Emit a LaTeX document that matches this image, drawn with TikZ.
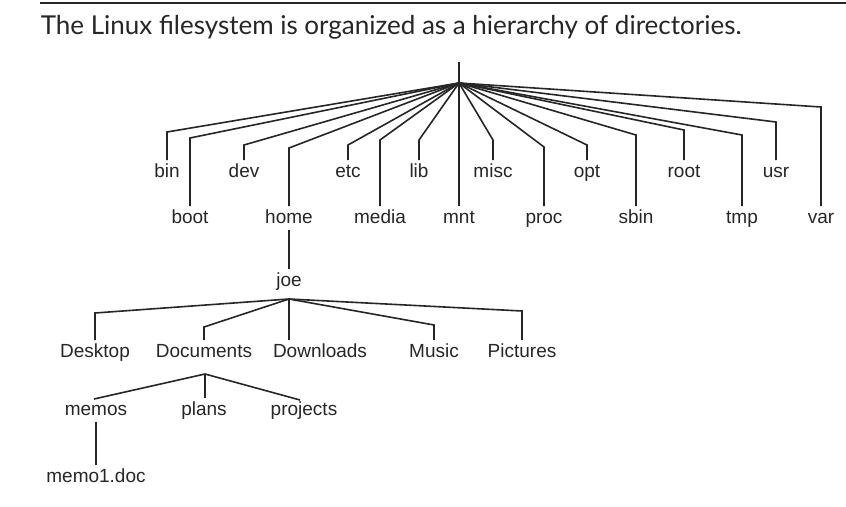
\documentclass[tikz,border=0pt]{standalone}
\usepackage{fontspec}
\setmainfont{Liberation Sans}
\newfontfamily\titlefont{Lato}
\begin{document}
\begin{tikzpicture}[x=1pt,y=-1pt,line width=1.6pt,color={black!85},
    dir/.style={font=\fontsize{19}{20}\selectfont,inner sep=2pt,text height=14pt,text depth=4pt}]
      \useasboundingbox (0,0) rectangle (846,506);
      \draw[line width=2pt] (40,3) -- (846,3);
      \node[anchor=west,font=\titlefont\fontsize{26}{28}\selectfont,inner sep=0pt] (title) at (40,27)
        {The Linux filesystem is organized as a hierarchy of directories.};
      \draw[dir]
        (167,172) node (bin){bin}
        (190,218) node (boot){boot}
        (244,172) node (dev){dev}
        (289,218) node (home){home}
        (348,172) node (etc){etc}
        (380,218) node (media){media}
        (419,172) node (lib){lib}
        (459,218) node (mnt){mnt}
        (493,172) node (misc){misc}
        (544,218) node (proc){proc}
        (587,172) node (opt){opt}
        (636,218) node (sbin){sbin}
        (684,172) node (root){root}
        (742,218) node (tmp){tmp}
        (776,172) node (usr){usr}
        (821,218) node (var){var}
        (289,281) node (joe){joe}
        (95,352) node (desktop){Desktop}
        (204,352) node (documents){Documents}
        (320,352) node (downloads){Downloads}
        (434,352) node (music){Music}
        (522,352) node (pictures){Pictures}
        (96,410) node (memos){memos}
        (204,410) node (plans){plans}
        (304,410) node (projects){projects}
        (96,477) node (memo){memo1.doc};
      \coordinate (top) at (459,62);
      \coordinate (hub) at (459,83);
      \coordinate (joehub) at (289,299);
      \coordinate (dochub) at (205,374);
      \coordinate (memosend) at (94,399);
      \coordinate (plansend) at (205,398);
      \coordinate (projectsend) at (300,400);
      \begin{scope}[line join=miter]
        \draw (top) -- (hub) -- (mnt.north);
        \draw (hub) -- (bin.north |- 0,132) -- (bin.north);
        \draw (hub) -- (boot.north |- 0,138) -- (boot.north);
        \draw (hub) -- (dev.north |- 0,145) -- (dev.north);
        \draw (hub) -- (home.north |- 0,148) -- (home.north);
        \draw (hub) -- (etc.north |- 0,145) -- (etc.north);
        \draw (hub) -- (media.north |- 0,140) -- (media.north);
        \draw (hub) -- (lib.north |- 0,140) -- (lib.north);
        \draw (hub) -- (misc.north |- 0,140) -- (misc.north);
        \draw (hub) -- (proc.north |- 0,147) -- (proc.north);
        \draw (hub) -- (opt.north |- 0,145) -- (opt.north);
        \draw (hub) -- (sbin.north |- 0,135) -- (sbin.north);
        \draw (hub) -- (root.north |- 0,130) -- (root.north);
        \draw (hub) -- (tmp.north |- 0,135) -- (tmp.north);
        \draw (hub) -- (usr.north |- 0,122) -- (usr.north);
        \draw (hub) -- (var.north |- 0,107) -- (var.north);
        \draw (home.south) -- (joe.north);
        \draw (joehub) -- (desktop.north |- 0,313) -- (desktop.north);
        \draw (joehub) -- (documents.north |- 0,327) -- (documents.north);
        \draw (joehub) -- (downloads.north -| joehub);
        \draw (joehub) -- (music.north |- 0,325) -- (music.north);
        \draw (joehub) -- (pictures.north |- 0,311) -- (pictures.north);
        \draw (dochub) -- (memosend);
        \draw (dochub) -- (plansend);
        \draw (dochub) -- (projectsend);
        \draw (memos.south) -- (memo.north);
      \end{scope}
    \end{tikzpicture}
\end{document}
